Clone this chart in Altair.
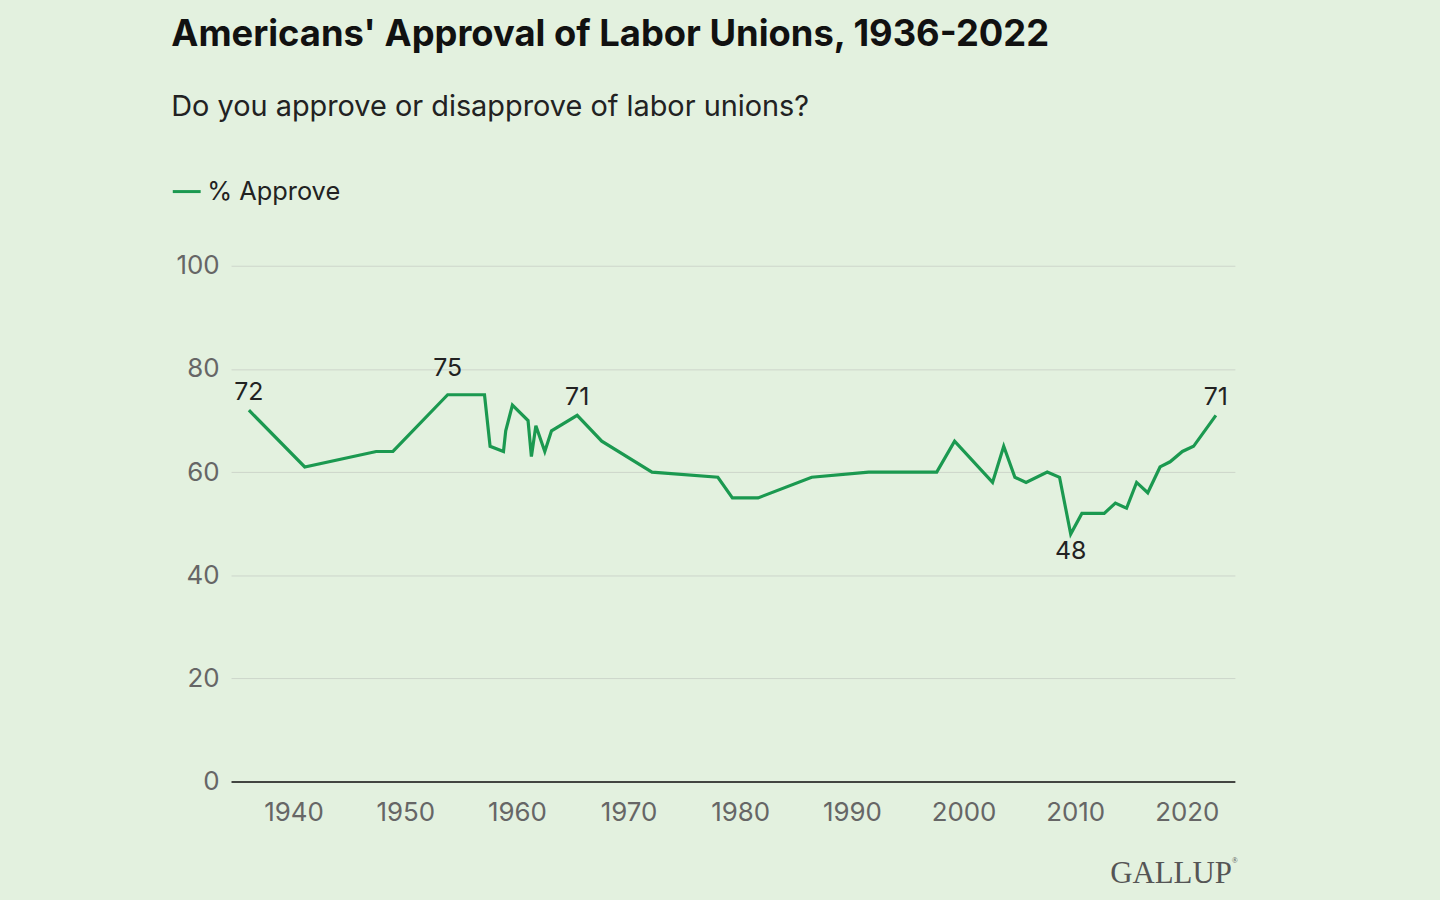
import altair as alt
import pandas as pd

# Data (x = poll date as fractional year, y = % approve)
years = [1936.0, 1941.0, 1947.4, 1948.9, 1953.8, 1957.1, 1957.6, 1958.8, 1959.0,
         1959.6, 1961.0, 1961.3, 1961.7, 1962.5, 1963.1, 1965.4, 1967.6, 1972.1,
         1978.0, 1979.3, 1981.6, 1986.4, 1991.5, 1997.6, 1999.2, 2002.6, 2003.6,
         2004.6, 2005.6, 2007.5, 2008.6, 2009.6, 2010.6, 2012.6, 2013.6, 2014.6,
         2015.5, 2016.5, 2017.6, 2018.5, 2019.6, 2020.6, 2022.6]
approve = [72, 61, 64, 64, 75, 75, 65, 64, 68,
           73, 70, 63, 69, 64, 68, 71, 66, 60,
           59, 55, 55, 59, 60, 60, 66, 58, 65,
           59, 58, 60, 59, 48, 52, 52, 54, 53,
           58, 56, 61, 62, 64, 65, 71]

label_above = [1936.0, 1965.4, 2022.6]
label_high = [1953.8]
label_below = [2009.6]

x_ticks = [1940, 1950, 1960, 1970, 1980, 1990, 2000, 2010, 2020]
y_ticks = [0, 20, 40, 60, 80, 100]

df = pd.DataFrame({"year": years, "approve": approve, "series": "% Approve"})

FONT = "Inter"
GREEN = "#1b9950"
BG = "#e3f1df"

x = alt.X("year:Q", scale=alt.Scale(domain=[1934.4, 2024.3], nice=False, zero=False),
          axis=alt.Axis(values=x_ticks, format="d", title=None, grid=False, ticks=False,
                        domain=True, domainColor="#111111", domainWidth=1.5,
                        labelFontSize=26, labelColor="#666666", labelFont=FONT,
                        labelPadding=18, labelFlush=False))
y = alt.Y("approve:Q", scale=alt.Scale(domain=[0, 100], nice=False),
          axis=alt.Axis(values=y_ticks, title=None, grid=True, gridColor="#cdd6cb",
                        gridWidth=1, ticks=False, domain=False,
                        labelFontSize=26, labelColor="#666666", labelFont=FONT,
                        labelPadding=12))

line = alt.Chart(df).mark_line(strokeWidth=3.2).encode(
    x=x, y=y,
    color=alt.Color("series:N",
                    scale=alt.Scale(domain=["% Approve"], range=[GREEN]),
                    legend=alt.Legend(title=None, orient="none", legendX=-60, legendY=-90,
                                      symbolType="stroke", symbolSize=784,
                                      symbolStrokeWidth=3, labelFontSize=25.5,
                                      labelFont=FONT, labelColor="#222222",
                                      labelOffset=5)),
)

base_text = alt.Chart(df).encode(x="year:Q", y="approve:Q", text=alt.Text("approve:Q", format="d"))

t_above = base_text.transform_filter(
    alt.FieldOneOfPredicate(field="year", oneOf=label_above)
).mark_text(fontSize=25, font=FONT, color="#222222", baseline="alphabetic", dy=-10)

t_high = base_text.transform_filter(
    alt.FieldOneOfPredicate(field="year", oneOf=label_high)
).mark_text(fontSize=25, font=FONT, color="#222222", baseline="alphabetic", dy=-19)

t_below = base_text.transform_filter(
    alt.FieldOneOfPredicate(field="year", oneOf=label_below)
).mark_text(fontSize=25, font=FONT, color="#222222", baseline="alphabetic", dy=25)

logo = alt.Chart(pd.DataFrame({"t": ["GALLUP"]})).mark_text(
    font="Liberation Serif", fontSize=31, color="#555555", align="right",
    baseline="alphabetic"
).encode(x=alt.value(1005), y=alt.value(620), text="t:N")

reg = alt.Chart(pd.DataFrame({"t": ["®"]})).mark_text(
    font="Liberation Serif", fontSize=8, color="#555555", align="left",
    baseline="alphabetic"
).encode(x=alt.value(1005), y=alt.value(600), text="t:N")

chart = alt.layer(line, t_above, t_high, t_below, logo, reg).properties(
    width=1008, height=518,
    title=alt.TitleParams(
        text="Americans' Approval of Labor Unions, 1936-2022",
        subtitle="Do you approve or disapprove of labor unions?",
        anchor="start", frame="bounds", font=FONT, fontSize=36.5, fontWeight="bold",
        color="#111111", subtitleFont=FONT, subtitleFontSize=29,
        subtitleColor="#222222", subtitlePadding=40, offset=54,
    ),
).configure(
    background=BG,
    padding={"left": 172, "top": 15, "right": 202, "bottom": 9},
).configure_view(stroke=None)

chart.save("out.html", embed_options={"renderer": "svg", "actions": False})
